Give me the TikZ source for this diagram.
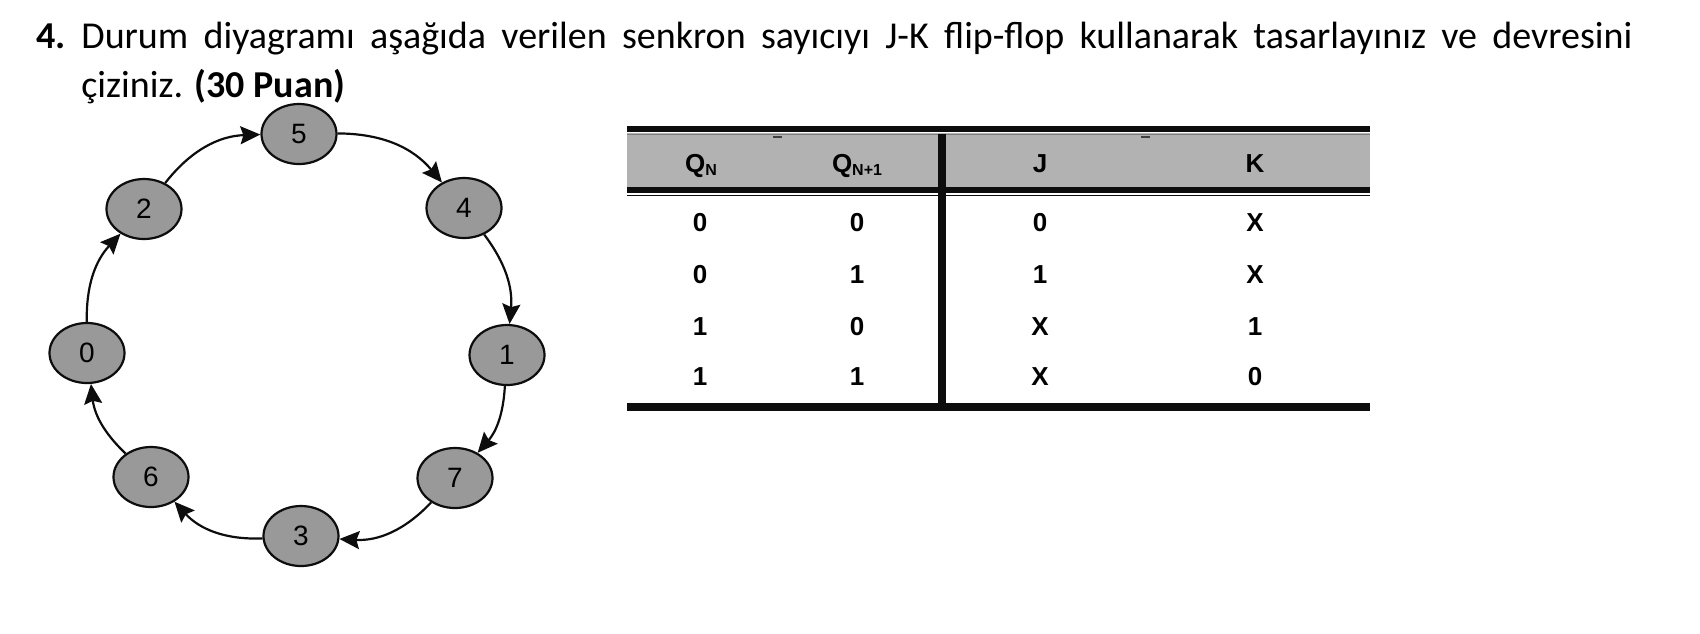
\documentclass[tikz,border=0pt]{standalone}
\usepackage{fontspec}
\setmainfont{Carlito}
\newfontfamily\arialFont{Liberation Sans}
\usetikzlibrary{arrows.meta, positioning, shapes.geometric}
\definecolor{stateGray}{gray}{0.6}
\definecolor{headGray}{gray}{0.7}
\definecolor{mainBlack}{gray}{0.05}

\tikzset{
  stateNode/.style={ellipse, draw=mainBlack, line width=1.1pt, fill=stateGray,
    minimum width=37.5pt, minimum height=30pt, inner sep=0pt,
    font=\arialFont\fontsize{14}{14}\selectfont},
  edgeLine/.style={line width=1.1pt, mainBlack},
  cellText/.style={inner sep=0pt, font=\arialFont\bfseries\fontsize{13}{13}\selectfont},
  ruleThick/.style={line width=2.9pt, mainBlack},
  qText/.style={anchor=base west, inner sep=0pt, font=\fontsize{19}{23}\selectfont}
}
\newcommand{\qSub}[1]{Q\raisebox{-0.15em}{\fontsize{8}{8}\selectfont #1}}

\begin{document}
\begin{tikzpicture}[x=0.5pt, y=0.5pt, >={Stealth[length=10pt, width=9pt, inset=1.5pt]}]
    \useasboundingbox (0,0) rectangle (1700,-633);

    % question
    \node[qText] (num) at (36,-48) {\textbf{4.}};
    \node[qText] (line1) at (81,-48)
        {\makebox[775.5pt][s]{Durum diyagramı aşağıda verilen senkron sayıcıyı J-K flip-flop kullanarak tasarlayınız ve devresini}};
    \node[qText] (line2) at (81,-97) {çiziniz. \textbf{(30 Puan)}};

    % states
    \node[stateNode] (s5) at (299,-134) {5};
    \node[stateNode] (s2) at (144,-209) {2};
    \node[stateNode] (s4) at (464,-208) {4};
    \node[stateNode] (s0) at (87,-353) {0};
    \node[stateNode] (s1) at (507,-355) {1};
    \node[stateNode] (s6) at (151,-477) {6};
    \node[stateNode] (s7) at (455,-478) {7};
    \node[stateNode] (s3) at (301,-536) {3};

    \foreach \a/\b/\t in {s0/s2/22, s2/s5/25, s5/s4/25, s4/s1/21, s1/s7/19, s7/s3/25, s3/s6/25, s6/s0/20}
        \draw[->, edgeLine] (\a) to[bend left=\t] (\b);

    % excitation table
    \fill[headGray] (627,-133) rectangle (1370,-189);
    \draw[ruleThick] (627,-129) -- (1370,-129);
    \draw[gray, line width=0.7pt] (627,-134.5) -- (1370,-134.5);
    \draw[ruleThick] (627,-190) -- (1370,-190);
    \draw[mainBlack, line width=0.7pt] (627,-195.5) -- (1370,-195.5);
    \draw[mainBlack, line width=4pt] (942,-134) -- (942,-405);
    \draw[mainBlack, line width=3.6pt] (627,-407) -- (1370,-407);
    \draw[darkgray, line width=1pt] (773,-136.5) -- (782,-136.5) (1141,-136.5) -- (1150,-136.5);

    \node[cellText, anchor=base] (hQn) at (701,-172) {\qSub{N}};
    \node[cellText, anchor=base] (hQn1) at (857,-172) {\qSub{N+1}};
    \node[cellText, anchor=base] (hJ) at (1040,-172) {J};
    \node[cellText, anchor=base] (hK) at (1255,-172) {K};

    \foreach \r/\y/\p/\q/\j/\k in {1/223/0/0/0/X, 2/275/0/1/1/X, 3/327/1/0/X/1, 4/377/1/1/X/0} {
        \node[cellText] (qa\r) at (700,-\y) {\p};
        \node[cellText] (qb\r) at (857,-\y) {\q};
        \node[cellText] (cj\r) at (1040,-\y) {\j};
        \node[cellText] (ck\r) at (1255,-\y) {\k};
    }
\end{tikzpicture}
\end{document}
